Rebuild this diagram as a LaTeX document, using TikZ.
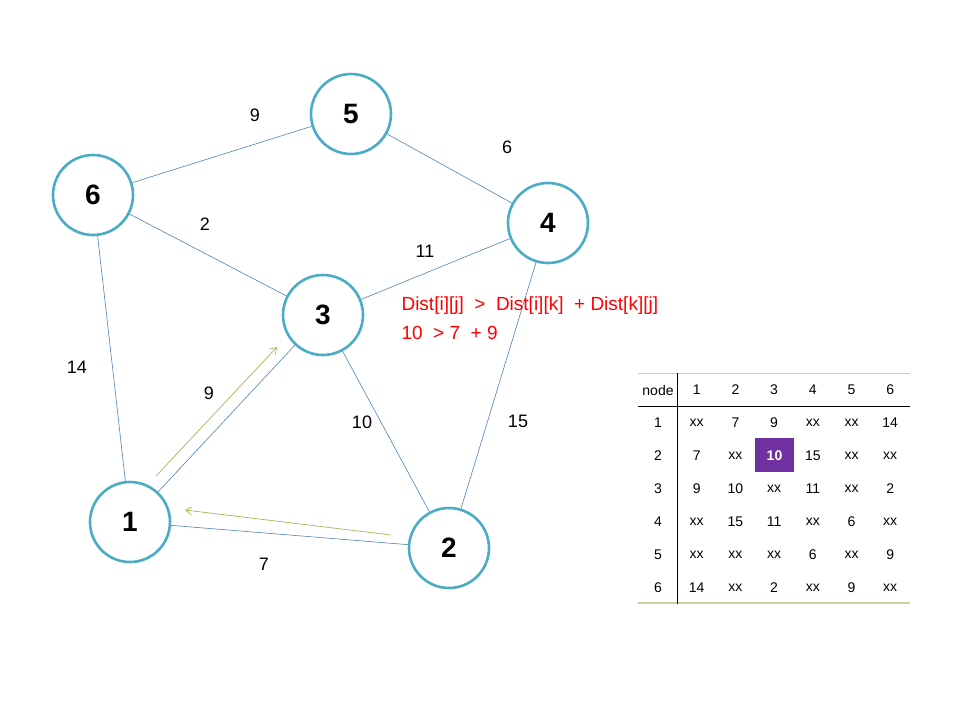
\documentclass[tikz,border=0pt]{standalone}
\usepackage{fontspec}
\setmainfont{Liberation Sans}
\usetikzlibrary{arrows.meta}

\definecolor{ringblue}{RGB}{75,172,198}
\definecolor{edgeblue}{RGB}{79,129,189}
\definecolor{pathgreen}{RGB}{155,187,89}
\definecolor{cellpurple}{RGB}{112,48,160}
\definecolor{rulegreen}{RGB}{195,214,155}

\begin{document}
\begin{tikzpicture}[x=1pt, y=-1pt,
    vertex/.style={circle, draw=ringblue, line width=2.6pt, fill=white, minimum size=80pt, inner sep=0pt, font=\bfseries\fontsize{28}{28}\selectfont},
    link/.style={draw=edgeblue, line width=0.6pt},
    weight/.style={font=\fontsize{18}{18}\selectfont},
    route/.style={draw=pathgreen, line width=0.7pt, -{Straight Barb[length=6pt, width=8pt]}},
    cell/.style={font=\fontsize{14}{14}\selectfont}
  ]
  \useasboundingbox (0,0) rectangle (960,720);

  % vertices
  \node[vertex] (n1) at (130,522) {1};
  \node[vertex] (n2) at (449,548) {2};
  \node[vertex] (n3) at (323,315) {3};
  \node[vertex] (n4) at (548,223) {4};
  \node[vertex] (n5) at (351,114) {5};
  \node[vertex] (n6) at (93,195) {6};

  % edges
  \begin{scope}[on background layer/.style={}]
  \end{scope}
  \foreach \a/\b in {n6/n5, n5/n4, n6/n3, n3/n4, n6/n1, n1/n3, n3/n2, n4/n2, n1/n2}
    \path[link] (\a) -- (\b);

  % weights
  \node[weight] (w65) at (255,115) {9};
  \node[weight] (w54) at (507,147) {6};
  \node[weight] (w63) at (205,224) {2};
  \node[weight] (w34) at (425,251) {11};
  \node[weight] (w61) at (77,367) {14};
  \node[weight] (w13) at (209,393) {9};
  \node[weight] (w32) at (362,422) {10};
  \node[weight] (w42) at (518,421) {15};
  \node[weight] (w12) at (264,564) {7};

  % relaxed path
  \coordinate (g1s) at (156,476);
  \coordinate (g1e) at (277,347);
  \coordinate (g2s) at (391,535);
  \coordinate (g2e) at (185,510);
  \draw[route] (g1s) -- (g1e);
  \draw[route] (g2s) -- (g2e);

  % condition
  \node[anchor=west, text=red, font=\fontsize{19}{19}\selectfont] (cond) at (398,306) {Dist[i][j]\ \ >\ \ Dist[i][k]\ \ +\ Dist[k][j]};
  \node[anchor=west, text=red, font=\fontsize{19}{19}\selectfont] (calc) at (398,333) {10\ \ >\ 7\ \ +\ 9};

  % table
  \fill[cellpurple] (755,438) rectangle (794,472);
  \draw[rulegreen, line width=1pt] (638,373) -- (910,373);
  \draw[rulegreen, line width=2pt] (638,603) -- (910,603);
  \draw[black, line width=0.8pt] (638,406) -- (910,406);
  \draw[black, line width=0.8pt] (677,373) -- (677,604);
  \node[cell] (hd) at (658,390) {node};
  \foreach \c [count=\i] in {1,...,6} {
    \node[cell] (c\i) at (658+\i*38.7,390) {\c};
    \node[cell] (r\i) at (658,390+\i*33) {\c};
  }
  \foreach \row [count=\r] in {
      {xx,7,9,xx,xx,14},
      {7,xx,,15,xx,xx},
      {9,10,xx,11,xx,2},
      {xx,15,11,xx,6,xx},
      {xx,xx,xx,6,xx,9},
      {14,xx,2,xx,9,xx}}
    \foreach \v [count=\i] in \row
      \node[cell] (m\r\i) at (658+\i*38.7,390+\r*33) {\v};
  \node[cell, text=white, font=\bfseries\fontsize{14}{14}\selectfont] (hit) at (774.5,456) {10};
\end{tikzpicture}
\end{document}
